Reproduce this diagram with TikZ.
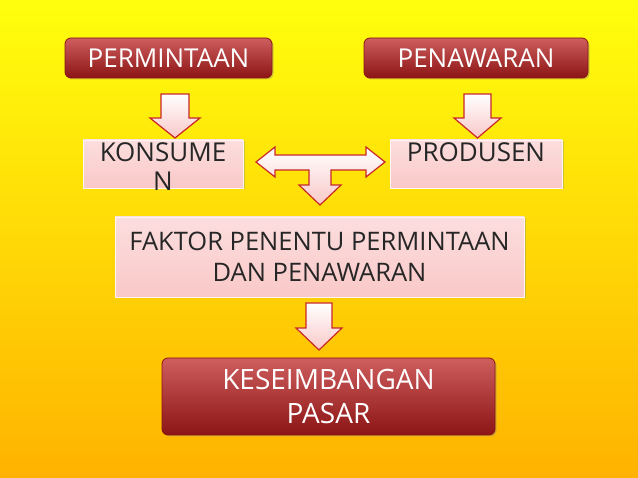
\documentclass[tikz,border=0pt]{standalone}
\usepackage{fontspec}
\setmainfont{Open Sans}
\usetikzlibrary{shadows}
\definecolor{boxred}{RGB}{190,40,40}
\definecolor{darkred}{RGB}{140,20,20}
\definecolor{pinkb}{RGB}{250,200,200}
\definecolor{arrowred}{RGB}{200,40,40}
\tikzset{
 redbox/.style={draw=darkred,line width=0.8pt,rounded corners=6pt,top color=boxred!75!white,bottom color=darkred,text=white,align=center,font=\fontsize{26}{30}\selectfont,drop shadow={opacity=0.35,shadow xshift=1.5pt,shadow yshift=-1.5pt}},
 pinkbox/.style={draw=white!85!pink,line width=0.6pt,top color=white!40!pinkb,bottom color=pinkb,text=black!85,align=center,font=\fontsize{26}{30}\selectfont,drop shadow={opacity=0.35,shadow xshift=1.5pt,shadow yshift=-1.5pt}},
 blockarrow/.style={draw=arrowred,line width=1.2pt,top color=white,bottom color=pinkb,line join=miter},
 plaintext/.style={align=center,font=\fontsize{26}{29}\selectfont,text=black!85,inner sep=0pt}
}
\begin{document}
\begin{tikzpicture}[x=1pt,y=-1pt]
\shade[top color=yellow!95!white,bottom color=orange!60!yellow,shading angle=0] (0,0) rectangle (638,478);
\useasboundingbox (0,0) rectangle (638,478);
\node[redbox,minimum width=207pt,minimum height=40pt] (perm) at (168.5,58) {PERMINTAAN};
\node[redbox,minimum width=224pt,minimum height=40pt] (pen) at (476,58) {PENAWARAN};
\node[pinkbox,minimum width=160pt,minimum height=48pt] (kon) at (163,164) {};
\node[plaintext,anchor=north] (kont) at (163,142) {KONSUME\\N};
\node[pinkbox,minimum width=172pt,minimum height=48pt] (pro) at (476,164) {};
\node[plaintext,anchor=north] (prot) at (476,142) {PRODUSEN};
\node[pinkbox,minimum width=409pt,minimum height=80pt,font=\fontsize{25.5}{31}\selectfont] (fak) at (319.5,257) {FAKTOR PENENTU PERMINTAAN\\DAN PENAWARAN};
\node[redbox,minimum width=333pt,minimum height=77pt,font=\fontsize{28}{34}\selectfont] (kes) at (328.5,396.5) {KESEIMBANGAN\\PASAR};
% down arrows
\draw[blockarrow] (161,94) -- (189,94) -- (189,118) -- (200,118) -- (175,138) -- (150,118) -- (161,118) -- cycle;
\draw[blockarrow] (464,94) -- (491,94) -- (491,118) -- (501,118) -- (477.5,138) -- (454,118) -- (464,118) -- cycle;
\draw[blockarrow] (306,303) -- (332,303) -- (332,328) -- (342,328) -- (319,350) -- (296,328) -- (306,328) -- cycle;
% double arrow with branch
\draw[blockarrow] (256,162) -- (275,147) -- (275,155) -- (366,155) -- (366,147) -- (385,162) -- (366,177) -- (366,170) -- (331,170) -- (331,185) -- (341,185) -- (320,205) -- (299,185) -- (309,185) -- (309,170) -- (275,170) -- (275,177) -- cycle;
\end{tikzpicture}
\end{document}
